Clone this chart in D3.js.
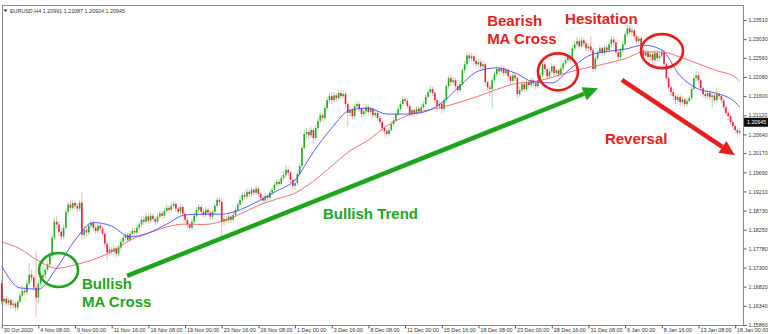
<!DOCTYPE html>
<html>
<head>
<meta charset="utf-8">
<script src="https://cdn.jsdelivr.net/npm/d3@7"></script>
<style>
  body { margin: 0; background: #fff; }
  svg { display: block; }
  text { font-family: "Liberation Sans", Arial, sans-serif; }
</style>
</head>
<body>
<div class="chart"></div>
<script>
// EURUSD H4, 30 Oct 2020 - 18 Jan 2021
const firstOpen = 1.1691;

const closes = [
  1.1645,1.1652,1.1641,1.1648,1.1636,1.1640,1.1630,1.1645,1.1660,1.1672,1.1668,1.1690,1.1712,1.1705,1.1680,1.1655,
  1.1690,1.1705,1.1712,1.1725,1.1738,1.1760,1.1805,1.1845,1.1838,1.1820,1.1808,1.1830,1.1870,1.1888,1.1880,1.1892,
  1.1885,1.1878,1.1893,1.1812,1.1825,1.1818,1.1835,1.1842,1.1830,1.1822,1.1835,1.1828,1.1815,1.1790,1.1768,1.1775,
  1.1770,1.1778,1.1765,1.1780,1.1795,1.1805,1.1812,1.1800,1.1815,1.1822,1.1818,1.1830,1.1838,1.1850,1.1845,1.1858,
  1.1848,1.1860,1.1852,1.1845,1.1858,1.1866,1.1860,1.1872,1.1880,1.1875,1.1885,1.1890,1.1878,1.1870,1.1882,1.1865,
  1.1850,1.1838,1.1830,1.1845,1.1860,1.1875,1.1882,1.1870,1.1862,1.1875,1.1868,1.1858,1.1870,1.1885,1.1900,1.1895,
  1.1845,1.1852,1.1848,1.1858,1.1850,1.1862,1.1875,1.1888,1.1900,1.1912,1.1908,1.1920,1.1915,1.1925,1.1918,1.1928,
  1.1915,1.1905,1.1898,1.1910,1.1905,1.1918,1.1925,1.1938,1.1945,1.1940,1.1955,1.1962,1.1975,1.1968,1.1950,1.1935,
  1.1942,1.1965,1.1985,1.2030,1.2065,1.2070,1.2062,1.2075,1.2055,1.2080,1.2098,1.2112,1.2105,1.2130,1.2150,1.2160,
  1.2150,1.2162,1.2155,1.2168,1.2160,1.2165,1.2140,1.2118,1.2125,1.2110,1.2135,1.2140,1.2128,1.2115,1.2122,1.2132,
  1.2120,1.2128,1.2112,1.2118,1.2105,1.2095,1.2080,1.2072,1.2065,1.2075,1.2090,1.2100,1.2115,1.2128,1.2140,1.2152,
  1.2148,1.2135,1.2115,1.2125,1.2118,1.2128,1.2122,1.2132,1.2140,1.2158,1.2170,1.2178,1.2168,1.2150,1.2135,1.2140,
  1.2128,1.2150,1.2185,1.2205,1.2195,1.2200,1.2185,1.2175,1.2190,1.2225,1.2240,1.2262,1.2255,1.2260,1.2248,1.2240,
  1.2245,1.2235,1.2240,1.2195,1.2182,1.2178,1.2200,1.2215,1.2228,1.2222,1.2230,1.2218,1.2225,1.2210,1.2198,1.2212,
  1.2205,1.2165,1.2175,1.2190,1.2178,1.2195,1.2188,1.2200,1.2192,1.2185,1.2200,1.2212,1.2240,1.2228,1.2210,1.2222,
  1.2235,1.2218,1.2225,1.2215,1.2230,1.2242,1.2250,1.2258,1.2252,1.2280,1.2290,1.2298,1.2285,1.2300,1.2292,1.2280,
  1.2285,1.2275,1.2228,1.2255,1.2270,1.2280,1.2268,1.2282,1.2275,1.2290,1.2302,1.2295,1.2270,1.2258,1.2275,1.2290,
  1.2315,1.2330,1.2320,1.2325,1.2310,1.2298,1.2305,1.2275,1.2262,1.2270,1.2258,1.2265,1.2250,1.2268,1.2255,1.2262,
  1.2270,1.2240,1.2205,1.2182,1.2170,1.2160,1.2150,1.2158,1.2145,1.2152,1.2140,1.2148,1.2155,1.2178,1.2205,1.2212,
  1.2200,1.2180,1.2165,1.2160,1.2168,1.2158,1.2162,1.2150,1.2165,1.2160,1.2150,1.2132,1.2118,1.2110,1.2095,1.2085,
  1.2075,1.2068,1.2072
];

const highs = [
  1.1700,1.1660,1.1658,1.1655,1.1653,1.1649,1.1646,1.1652,1.1668,1.1685,1.1680,1.1700,1.1742,1.1725,1.1712,1.1770,
  1.1698,1.1715,1.1735,1.1732,1.1745,1.1768,1.1812,1.1855,1.1860,1.1846,1.1828,1.1838,1.1878,1.1895,1.1898,1.1900,
  1.1898,1.1892,1.1900,1.1920,1.1835,1.1832,1.1845,1.1850,1.1848,1.1838,1.1842,1.1840,1.1834,1.1822,1.1795,1.1784,
  1.1782,1.1786,1.1784,1.1788,1.1802,1.1812,1.1820,1.1818,1.1822,1.1830,1.1828,1.1838,1.1845,1.1858,1.1860,1.1866,
  1.1865,1.1868,1.1866,1.1858,1.1865,1.1874,1.1872,1.1880,1.1888,1.1886,1.1893,1.1898,1.1896,1.1884,1.1890,1.1888,
  1.1870,1.1856,1.1845,1.1852,1.1868,1.1882,1.1890,1.1888,1.1876,1.1882,1.1880,1.1874,1.1877,1.1892,1.1906,1.1907,
  1.1902,1.1862,1.1860,1.1866,1.1864,1.1870,1.1882,1.1895,1.1908,1.1920,1.1920,1.1928,1.1926,1.1933,1.1930,1.1935,
  1.1934,1.1920,1.1912,1.1918,1.1916,1.1925,1.1932,1.1945,1.1952,1.1950,1.1962,1.1970,1.1987,1.1982,1.1972,1.1955,
  1.1950,1.1972,1.1992,1.2038,1.2075,1.2080,1.2078,1.2083,1.2080,1.2087,1.2105,1.2120,1.2118,1.2138,1.2158,1.2168,
  1.2170,1.2170,1.2168,1.2176,1.2175,1.2174,1.2172,1.2145,1.2134,1.2130,1.2142,1.2148,1.2146,1.2134,1.2130,1.2140,
  1.2138,1.2135,1.2132,1.2126,1.2124,1.2110,1.2100,1.2086,1.2078,1.2082,1.2097,1.2108,1.2122,1.2135,1.2148,1.2160,
  1.2158,1.2154,1.2140,1.2132,1.2130,1.2135,1.2134,1.2140,1.2148,1.2165,1.2177,1.2186,1.2184,1.2172,1.2155,1.2148,
  1.2146,1.2158,1.2192,1.2212,1.2212,1.2208,1.2206,1.2190,1.2198,1.2232,1.2248,1.2272,1.2270,1.2268,1.2265,1.2255,
  1.2254,1.2252,1.2248,1.2245,1.2200,1.2190,1.2208,1.2222,1.2236,1.2234,1.2238,1.2236,1.2232,1.2230,1.2215,1.2220,
  1.2218,1.2210,1.2184,1.2198,1.2196,1.2202,1.2200,1.2207,1.2206,1.2198,1.2207,1.2220,1.2248,1.2246,1.2232,1.2230,
  1.2242,1.2240,1.2232,1.2230,1.2237,1.2250,1.2258,1.2265,1.2264,1.2287,1.2298,1.2308,1.2304,1.2308,1.2306,1.2298,
  1.2294,1.2310,1.2280,1.2262,1.2277,1.2288,1.2285,1.2290,1.2288,1.2297,1.2310,1.2308,1.2300,1.2275,1.2282,1.2298,
  1.2322,1.2345,1.2340,1.2335,1.2330,1.2316,1.2312,1.2310,1.2282,1.2278,1.2276,1.2272,1.2270,1.2276,1.2274,1.2270,
  1.2278,1.2275,1.2245,1.2210,1.2188,1.2178,1.2166,1.2165,1.2164,1.2160,1.2156,1.2156,1.2162,1.2185,1.2212,1.2222,
  1.2220,1.2205,1.2185,1.2172,1.2176,1.2174,1.2170,1.2168,1.2180,1.2172,1.2166,1.2155,1.2138,1.2124,1.2115,1.2100,
  1.2090,1.2082,1.2080
];

const lows = [
  1.1638,1.1635,1.1632,1.1634,1.1626,1.1628,1.1620,1.1624,1.1640,1.1655,1.1660,1.1662,1.1685,1.1695,1.1672,1.1605,
  1.1640,1.1682,1.1698,1.1704,1.1718,1.1730,1.1752,1.1798,1.1828,1.1810,1.1798,1.1802,1.1825,1.1862,1.1872,1.1874,
  1.1876,1.1870,1.1872,1.1800,1.1802,1.1808,1.1812,1.1828,1.1822,1.1814,1.1815,1.1820,1.1808,1.1782,1.1748,1.1758,
  1.1760,1.1762,1.1756,1.1758,1.1774,1.1788,1.1798,1.1792,1.1794,1.1808,1.1810,1.1812,1.1824,1.1832,1.1838,1.1840,
  1.1840,1.1842,1.1845,1.1836,1.1840,1.1852,1.1852,1.1855,1.1866,1.1868,1.1870,1.1878,1.1870,1.1862,1.1864,1.1858,
  1.1842,1.1828,1.1822,1.1824,1.1840,1.1854,1.1868,1.1862,1.1855,1.1856,1.1860,1.1850,1.1852,1.1864,1.1880,1.1886,
  1.1802,1.1835,1.1840,1.1842,1.1842,1.1845,1.1856,1.1870,1.1882,1.1894,1.1900,1.1902,1.1906,1.1908,1.1910,1.1912,
  1.1908,1.1898,1.1890,1.1892,1.1898,1.1900,1.1912,1.1920,1.1932,1.1932,1.1935,1.1948,1.1956,1.1960,1.1942,1.1925,
  1.1926,1.1936,1.1958,1.1980,1.2025,1.2055,1.2052,1.2056,1.2040,1.2050,1.2074,1.2092,1.2096,1.2100,1.2124,1.2142,
  1.2140,1.2144,1.2146,1.2150,1.2152,1.2154,1.2132,1.2084,1.2110,1.2102,1.2105,1.2128,1.2120,1.2106,1.2108,1.2116,
  1.2112,1.2114,1.2105,1.2106,1.2098,1.2088,1.2072,1.2064,1.2058,1.2060,1.2070,1.2084,1.2094,1.2110,1.2122,1.2135,
  1.2140,1.2128,1.2108,1.2108,1.2110,1.2112,1.2114,1.2116,1.2126,1.2134,1.2152,1.2164,1.2160,1.2142,1.2122,1.2126,
  1.2118,1.2122,1.2144,1.2178,1.2186,1.2188,1.2178,1.2166,1.2170,1.2184,1.2218,1.2234,1.2246,1.2248,1.2240,1.2232,
  1.2232,1.2228,1.2226,1.2186,1.2174,1.2160,1.2130,1.2194,1.2208,1.2214,1.2216,1.2210,1.2212,1.2202,1.2190,1.2192,
  1.2198,1.2155,1.2158,1.2170,1.2170,1.2172,1.2180,1.2182,1.2185,1.2178,1.2180,1.2194,1.2206,1.2220,1.2200,1.2204,
  1.2216,1.2210,1.2212,1.2208,1.2210,1.2224,1.2236,1.2244,1.2244,1.2246,1.2274,1.2284,1.2278,1.2280,1.2284,1.2272,
  1.2272,1.2268,1.2220,1.2222,1.2250,1.2264,1.2260,1.2262,1.2268,1.2270,1.2284,1.2286,1.2262,1.2250,1.2252,1.2270,
  1.2285,1.2308,1.2312,1.2310,1.2302,1.2290,1.2290,1.2268,1.2254,1.2255,1.2250,1.2250,1.2242,1.2244,1.2246,1.2248,
  1.2255,1.2232,1.2195,1.2172,1.2160,1.2150,1.2140,1.2142,1.2136,1.2138,1.2132,1.2134,1.2142,1.2150,1.2172,1.2198,
  1.2192,1.2172,1.2158,1.2150,1.2152,1.2150,1.2130,1.2142,1.2145,1.2152,1.2142,1.2124,1.2110,1.2100,1.2086,1.2076,
  1.2066,1.2058,1.2062
];

// moving averages, read every 8 bars
const maBars = [0,8,16,24,32,40,48,56,64,72,80,88,96,104,112,120,128,136,144,152,160,168,176,184,192,200,208,216,224,232,240,248,256,264,272,280,288,296,304,312,320,322];
const maFast = [1.1734,1.1679,1.1676,1.1729,1.1799,1.1843,1.1834,1.1807,1.1817,1.1839,1.1862,1.1864,1.1864,1.1875,1.1897,1.1922,1.1950,1.2020,1.2080,1.2125,1.2130,1.2115,1.2115,1.2120,1.2143,1.2186,1.2223,1.2231,1.2218,1.2196,1.2193,1.2228,1.2261,1.2272,1.2278,1.2288,1.2276,1.2211,1.2178,1.2167,1.2145,1.2133];
const maSlow = [1.1794,1.1777,1.1747,1.1728,1.1737,1.1750,1.1770,1.1799,1.1816,1.1832,1.1839,1.1838,1.1846,1.1864,1.1886,1.1902,1.1917,1.1947,1.1985,1.2023,1.2050,1.2085,1.2109,1.2123,1.2132,1.2145,1.2160,1.2177,1.2191,1.2196,1.2207,1.2221,1.2232,1.2242,1.2254,1.2271,1.2271,1.2258,1.2241,1.2224,1.2208,1.2198];

const yTicks = [1.23510,1.23030,1.22560,1.22080,1.21600,1.21120,1.20640,1.20170,1.19690,1.19210,1.18730,1.18250,1.17780,1.17300,1.16820,1.16340,1.15860];
const xTickBars = [0,16,32,48,64,80,96,112,128,144,160,176,192,208,224,240,256,272,288,304,320];
const xTickLabels = ["30 Oct 2020","4 Nov 08:00","9 Nov 00:00","11 Nov 16:00","16 Nov 08:00","19 Nov 00:00","23 Nov 16:00","26 Nov 08:00","1 Dec 00:00","3 Dec 16:00","8 Dec 08:00","11 Dec 00:00","15 Dec 16:00","18 Dec 08:00","23 Dec 00:00","28 Dec 16:00","31 Dec 08:00","6 Jan 00:00","8 Jan 16:00","13 Jan 08:00","18 Jan 00:00"];

const header = "EURUSD,H4  1.20991 1.21087 1.20924 1.20945";
const lastPrice = 1.20945;

let width = 768, height = 334;
let plot = {left: 2, right: 743, top: 5, bottom: 325};

let svg = d3.select(".chart").append("svg").attr("width", width).attr("height", height);

let x = d3.scaleLinear().domain([0, 322]).range([1.7, 739.7]);
let y = d3.scaleLinear().domain([1.1586, 1.2351]).range([325, 20]);

let candles = closes.map((c, i) => {
  let o = i === 0 ? firstOpen : closes[i - 1];
  return {
    i: i, o: o, c: c,
    h: Math.max(highs[i], o, c),
    l: Math.min(lows[i], o, c)
  };
});

// frame
svg.append("rect")
  .attr("x", plot.left + 0.5).attr("y", plot.top + 0.5)
  .attr("width", plot.right - plot.left).attr("height", plot.bottom - plot.top)
  .attr("fill", "none").attr("stroke", "#8a8a8a").attr("stroke-width", 1);

// header
svg.append("path").attr("d", "M3.5,9.5 L7.5,9.5 L5.5,12 Z").attr("fill", "#333");
svg.append("text").attr("x", 10).attr("y", 13)
  .attr("font-size", 5.4).attr("fill", "#333").text(header);

// candles
let g = svg.append("g");

g.selectAll("line.wick")
  .data(candles)
  .enter().append("line")
  .attr("class", "wick")
  .attr("x1", d => x(d.i)).attr("x2", d => x(d.i))
  .attr("y1", d => y(d.h)).attr("y2", d => y(d.l))
  .attr("stroke", d => d.c >= d.o ? "#8fd38f" : "#f2a0ad")
  .attr("stroke-width", 0.8);

g.selectAll("rect.body")
  .data(candles)
  .enter().append("rect")
  .attr("class", "body")
  .attr("x", d => x(d.i) - 0.8)
  .attr("width", 1.6)
  .attr("y", d => y(Math.max(d.o, d.c)))
  .attr("height", d => Math.max(0.8, Math.abs(y(d.o) - y(d.c))))
  .attr("fill", d => d.c >= d.o ? "#1fae1f" : "#e8203c");

// moving averages
let maLine = vals => d3.line()
  .x((d, k) => x(maBars[k]))
  .y(d => y(d))
  .curve(d3.curveMonotoneX)(vals);

svg.append("path").attr("d", maLine(maSlow))
  .attr("fill", "none").attr("stroke", "#f26060").attr("stroke-width", 0.9);
svg.append("path").attr("d", maLine(maFast))
  .attr("fill", "none").attr("stroke", "#4a4aff").attr("stroke-width", 0.9);

// price axis
let yAxis = d3.axisRight(y)
  .tickValues(yTicks)
  .tickFormat(d3.format(".5f"))
  .tickSize(3)
  .tickPadding(2);

let ya = svg.append("g").attr("transform", `translate(${plot.right + 0.5},0)`).call(yAxis);
ya.select(".domain").remove();
ya.selectAll("line").attr("stroke", "#555");
ya.selectAll("text").attr("font-size", 5.3).attr("fill", "#333")
  .attr("font-family", "'Liberation Sans', Arial, sans-serif");

// time axis
let xAxis = d3.axisBottom(x)
  .tickValues(xTickBars)
  .tickFormat((d, k) => xTickLabels[k])
  .tickSize(3)
  .tickPadding(1);

let xa = svg.append("g").attr("transform", `translate(0,${plot.bottom + 0.5})`).call(xAxis);
xa.select(".domain").remove();
xa.selectAll("line").attr("stroke", "#555");
xa.selectAll("text").attr("font-size", 5.4).attr("fill", "#333")
  .attr("text-anchor", "start").attr("dx", 1.5).attr("dy", "0.45em")
  .attr("font-family", "'Liberation Sans', Arial, sans-serif");

// last price box
svg.append("rect").attr("x", plot.right + 1).attr("y", y(lastPrice) - 4.5)
  .attr("width", 24).attr("height", 9).attr("fill", "#111");
svg.append("text").attr("x", plot.right + 4).attr("y", y(lastPrice) + 2)
  .attr("font-size", 5.3).attr("fill", "#fff").text(d3.format(".5f")(lastPrice));

// annotations (bar index / price)
const RED = "#e61e1e", GREEN = "#1ea51e";

let ann = svg.append("g");

function arrow(b0, p0, b1, p1, color) {
  let x0 = x(b0), y0 = y(p0), x1 = x(b1), y1 = y(p1);
  let a = Math.atan2(y1 - y0, x1 - x0), len = 15, w = 7;
  let bx = x1 - len * Math.cos(a), by = y1 - len * Math.sin(a);
  ann.append("line").attr("x1", x0).attr("y1", y0).attr("x2", bx).attr("y2", by)
    .attr("stroke", color).attr("stroke-width", 4.5);
  ann.append("path")
    .attr("d", `M${x1},${y1} L${bx + w * Math.sin(a)},${by - w * Math.cos(a)} L${bx - w * Math.sin(a)},${by + w * Math.cos(a)} Z`)
    .attr("fill", color);
}

function ring(b, p, rx, ry, color) {
  ann.append("ellipse").attr("cx", x(b)).attr("cy", y(p)).attr("rx", rx).attr("ry", ry)
    .attr("fill", "none").attr("stroke", color).attr("stroke-width", 2.6);
}

function label(b, p, txt, color) {
  ann.append("text").attr("x", x(b)).attr("y", y(p)).text(txt)
    .attr("font-size", 15).attr("font-weight", "bold").attr("fill", color)
    .attr("stroke", "#fff").attr("stroke-width", 2).attr("paint-order", "stroke")
    .attr("stroke-linejoin", "round");
}

arrow(54.7, 1.1709, 260.2, 1.2180, GREEN);
arrow(270.6, 1.2201, 319.9, 1.2012, RED);

ring(24.8, 1.1724, 19.5, 17, GREEN);
ring(242.7, 1.2221, 20, 18.5, RED);
ring(288.1, 1.2273, 21, 17, RED);

label(211.8, 1.2335, "Bearish", RED);
label(211.8, 1.2291, "MA Cross", RED);
label(245.8, 1.2341, "Hesitation", RED);
label(263.2, 1.2040, "Reversal", RED);
label(140.2, 1.1852, "Bullish Trend", GREEN);
label(35, 1.1676, "Bullish", GREEN);
label(35, 1.1631, "MA Cross", GREEN);
</script>
</body>
</html>
